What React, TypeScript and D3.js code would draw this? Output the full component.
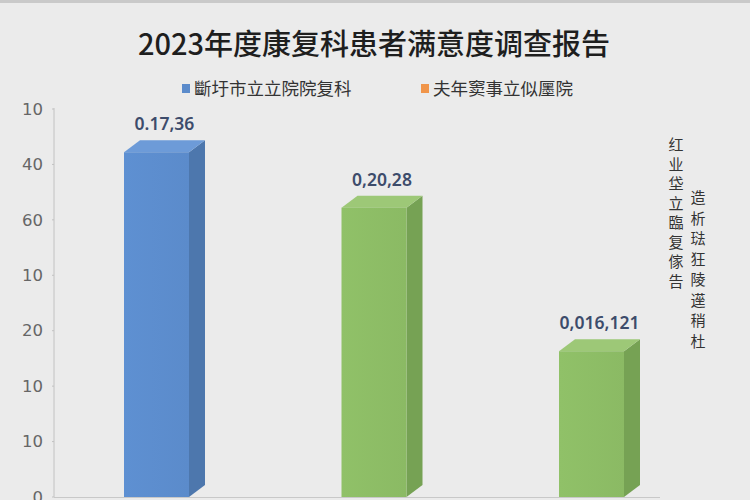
import React from "react";
import * as d3 from "d3";

const title = "2023年度康复科患者满意度调查报告";
const categories = ["A", "B", "C"];
const values = [62.2, 52.2, 26.3];
const valueLabels = ["0.17,36", "0,20,28", "0,016,121"];
const barSeries = [0, 1, 1];
const legendLabels = ["斷圩市立立院院复科", "夫年窦事立似㕓院"];
const tickValues = [0, 10, 20, 30, 40, 50, 60, 70];
const tickLabels = ["0", "10", "10", "20", "10", "60", "40", "10"];
const sideCol1 = "红业垈立臨复傢告";
const sideCol2 = "造析琺狂陵遳稍杜";

const W = 750;
const H = 500;
const FONT = "'Noto Sans CJK SC', 'Noto Sans', sans-serif";

const palette = [
  { front: "#5b8bcb", side: "#4d77ad", top: "#6d9bd8", legend: "#5b8bcb" },
  { front: "#8bba64", side: "#76a254", top: "#9dc877", legend: "#f0954a" },
];

export default function App() {
  const y = d3.scaleLinear().domain([0, 70]).range([497, 109]);
  const x = d3.scalePoint<string>().domain(categories).range([156.5, 591.5]);
  const bw = 65;
  const dx = 16;
  const dy = 12;
  const axisX = 54;

  return (
    <svg
      width={W}
      height={H}
      style={{ position: "fixed", left: 0, top: 0, display: "block" }}
      fontFamily={FONT}
    >
      <defs>
        {palette.map((p, i) => (
          <linearGradient key={i} id={`g${i}`} x1="0" x2="1" y1="0" y2="0">
            <stop offset="0" stopColor={d3.color(p.front)!.brighter(0.1).toString()} />
            <stop offset="1" stopColor={p.front} />
          </linearGradient>
        ))}
      </defs>
      <rect width={W} height={H} fill="#ebebeb" />
      <rect width={W} height={3} fill="#c9c9c9" />
      <text
        x={374}
        y={55}
        textAnchor="middle"
        fontSize={29}
        fontWeight={500}
        fill="#1e1e1e"
      >
        {title}
      </text>

      {/* legend */}
      {legendLabels.map((l, i) => {
        const lx = i === 0 ? 182 : 421;
        return (
          <g key={i}>
            <rect x={lx} y={84} width={8} height={9} fill={palette[i].legend} />
            <text x={lx + 12} y={95} fontSize={17.5} fill="#333">
              {l}
            </text>
          </g>
        );
      })}

      {/* y axis */}
      <line x1={axisX} x2={axisX} y1={108} y2={497} stroke="#c2c2c2" strokeWidth={1} />
      <line x1={axisX} x2={660} y1={497.5} y2={497.5} stroke="#c8c8c8" strokeWidth={1} />
      {tickValues.map((t, i) => (
        <g key={i}>
          <line x1={axisX - 2} x2={axisX} y1={y(t)} y2={y(t)} stroke="#c2c2c2" />
          <text
            x={43}
            y={y(t)}
            dy="0.35em"
            textAnchor="end"
            fontSize={16.5}
            fill="#666"
            fontFamily="'DejaVu Sans', sans-serif"
          >
            {tickLabels[i]}
          </text>
        </g>
      ))}

      {/* bars */}
      {categories.map((c, i) => {
        const cx = x(c)!;
        const x0 = cx - bw / 2;
        const x1 = cx + bw / 2;
        const yt = y(values[i]);
        const yb = y(0);
        const p = palette[barSeries[i]];
        return (
          <g key={c}>
            <polygon
              points={`${x1},${yt} ${x1 + dx},${yt - dy} ${x1 + dx},${yb - dy} ${x1},${yb}`}
              fill={p.side}
            />
            <polygon
              points={`${x0},${yt} ${x0 + dx},${yt - dy} ${x1 + dx},${yt - dy} ${x1},${yt}`}
              fill={p.top}
            />
            <rect x={x0} y={yt} width={bw} height={yb - yt} fill={`url(#g${barSeries[i]})`} />
            <text
              x={cx + 8}
              y={yt - 22}
              textAnchor="middle"
              fontSize={17.5}
              fontWeight={600}
              fill="#3d4c6b"
              fontFamily="'Noto Sans', sans-serif"
            >
              {valueLabels[i]}
            </text>
          </g>
        );
      })}

      {/* side vertical text */}
      {sideCol1.split("").map((ch, i) => (
        <text key={"a" + i} x={676} y={150 + i * 19.5} textAnchor="middle" fontSize={15} fill="#333">
          {ch}
        </text>
      ))}
      {sideCol2.split("").map((ch, i) => (
        <text key={"b" + i} x={698} y={203 + i * 20.5} textAnchor="middle" fontSize={15} fill="#333">
          {ch}
        </text>
      ))}
    </svg>
  );
}
